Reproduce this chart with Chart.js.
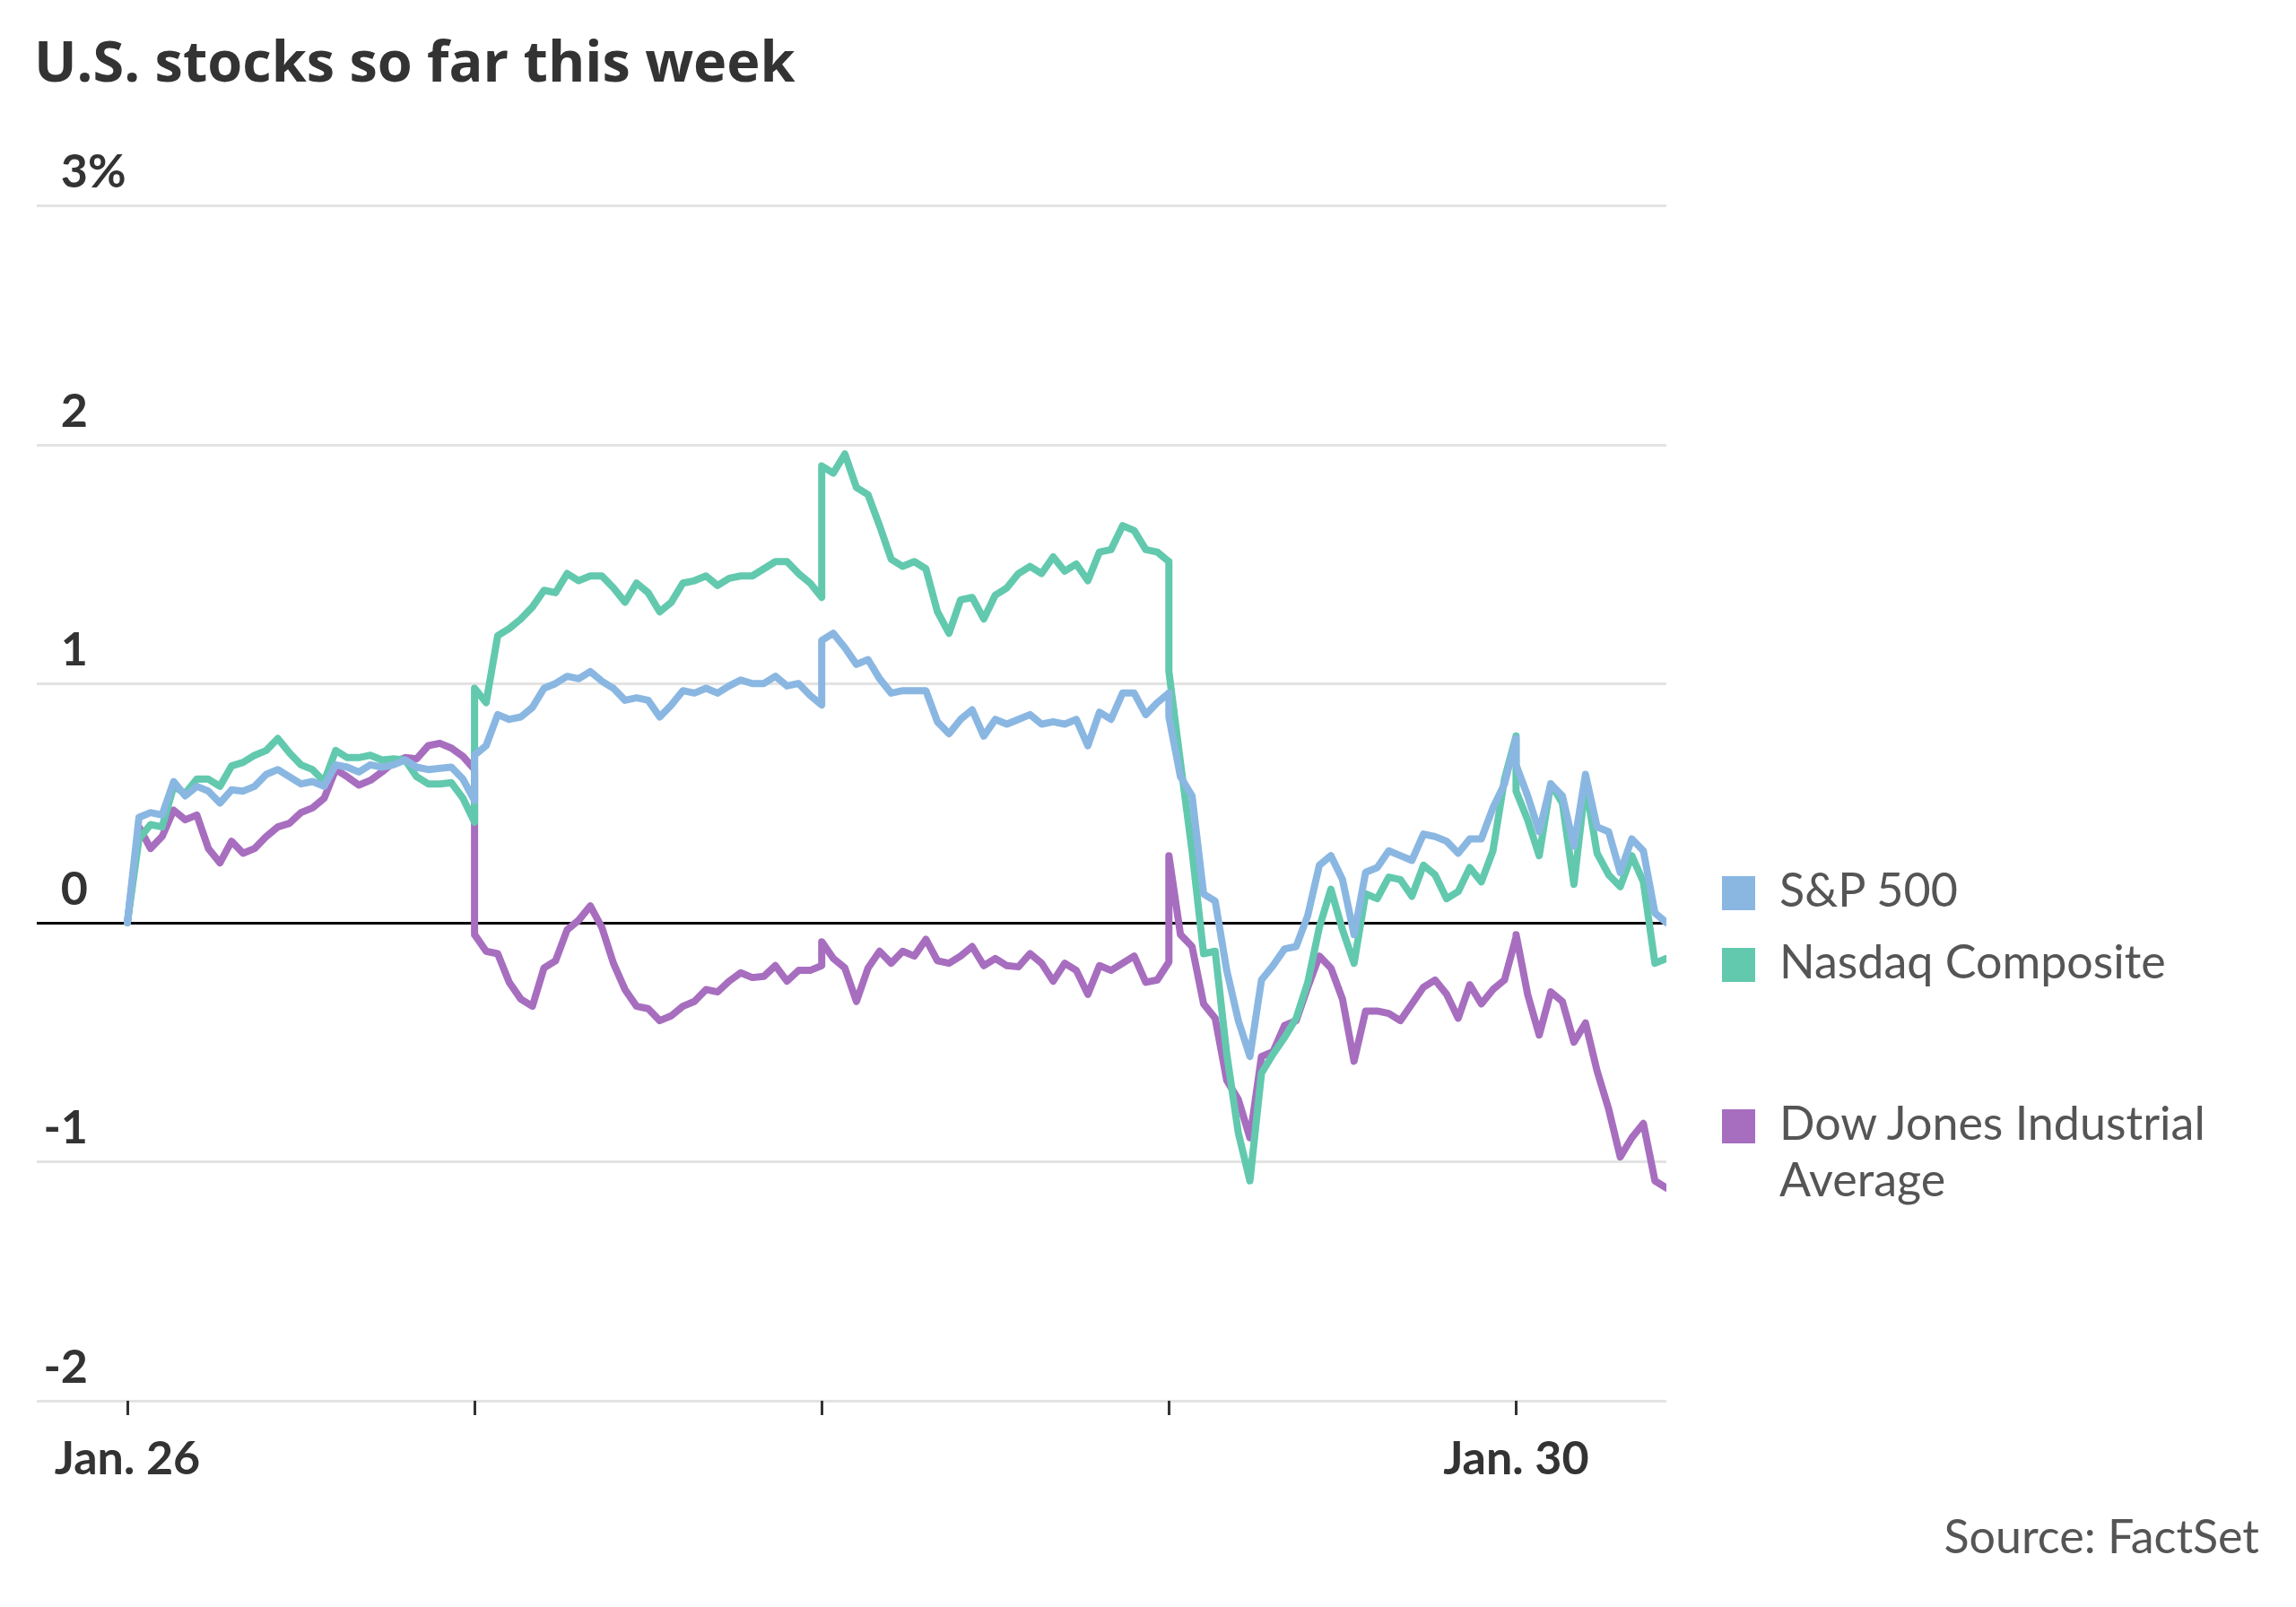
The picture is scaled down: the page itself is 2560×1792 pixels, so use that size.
<!DOCTYPE html>
<html lang="en">
<head>
<meta charset="UTF-8" />
<title>U.S. stocks so far this week</title>
<script src="https://cdn.jsdelivr.net/npm/chart.js"></script>
<style>
  html, body { margin: 0; padding: 0; background: #fff; }
  body { width: 2560px; height: 1792px; position: relative; overflow: hidden; font-family: Lato, "Open Sans", sans-serif; }
  #grafico { position: absolute; left: 0; top: 0; }
  h1 { position: absolute; left: 38px; top: 29px; margin: 0; font-family: "Open Sans", Lato, sans-serif; font-size: 63px; line-height: 1.2; font-weight: 700; color: #333; white-space: nowrap; }
  .leyenda-item { position: absolute; left: 1920px; font-size: 52px; line-height: 63px; color: #555; }
  .leyenda-item .cuadro { position: absolute; left: 0; top: 17px; width: 37px; height: 38px; }
  .leyenda-item .texto { position: absolute; left: 64px; top: 0; width: 520px; }
  .fuente { position: absolute; right: 41px; top: 1681px; font-size: 52px; line-height: 1.2; color: #555; white-space: nowrap; }
</style>
</head>
<body>
<h1>U.S. stocks so far this week</h1>
<canvas id="grafico" width="2560" height="1792"></canvas>
<div id="leyenda"></div>
<div class="fuente">Source: FactSet</div>

<script>
// points per trading day (Jan. 26 .. Jan. 30, last day partial), 30 steps per day
const puntosPorDia = [31, 31, 31, 31, 14];
const pasosPorDia = 30;

const seriesNombres = ['S&P 500', 'Nasdaq Composite', 'Dow Jones Industrial Average'];
const seriesColores = ['#8ab7e2', '#62c9ae', '#a76ebf'];

// % change since Friday close
const sp500 = [
  0, 0.44, 0.46, 0.45, 0.59, 0.53, 0.57, 0.55, 0.50, 0.555, 0.55, 0.57, 0.62, 0.64, 0.61, 0.58, 0.59, 0.57, 0.66, 0.65, 0.63, 0.66, 0.65, 0.66, 0.68, 0.65, 0.64, 0.645, 0.65, 0.60, 0.51,
  0.70, 0.74, 0.87, 0.85, 0.86, 0.90, 0.98, 1.00, 1.03, 1.02, 1.05, 1.01, 0.98, 0.93, 0.94, 0.93, 0.86, 0.91, 0.97, 0.96, 0.98, 0.96, 0.99, 1.015, 1.00, 1.00, 1.03, 0.99, 1.00, 0.95, 0.91,
  1.18, 1.21, 1.15, 1.08, 1.10, 1.02, 0.96, 0.97, 0.97, 0.97, 0.84, 0.79, 0.85, 0.89, 0.78, 0.85, 0.83, 0.85, 0.87, 0.83, 0.84, 0.83, 0.85, 0.74, 0.88, 0.85, 0.96, 0.96, 0.87, 0.92, 0.96,
  0.86, 0.61, 0.53, 0.12, 0.09, -0.20, -0.41, -0.56, -0.24, -0.18, -0.11, -0.10, 0.03, 0.24, 0.28, 0.18, -0.05, 0.21, 0.23, 0.30, 0.28, 0.26, 0.37, 0.36, 0.34, 0.29, 0.35, 0.35, 0.48, 0.58, 0.77,
  0.66, 0.53, 0.38, 0.58, 0.53, 0.32, 0.62, 0.40, 0.38, 0.21, 0.35, 0.30, 0.04, 0.00
];
const nasdaq = [
  0, 0.35, 0.41, 0.40, 0.57, 0.54, 0.60, 0.60, 0.57, 0.655, 0.67, 0.70, 0.72, 0.77, 0.71, 0.66, 0.64, 0.59, 0.72, 0.69, 0.69, 0.70, 0.68, 0.685, 0.68, 0.61, 0.58, 0.58, 0.585, 0.52, 0.42,
  0.98, 0.92, 1.20, 1.23, 1.27, 1.32, 1.39, 1.38, 1.46, 1.43, 1.45, 1.45, 1.40, 1.34, 1.42, 1.38, 1.30, 1.34, 1.42, 1.43, 1.45, 1.41, 1.44, 1.45, 1.45, 1.48, 1.51, 1.51, 1.46, 1.42, 1.36,
  1.91, 1.88, 1.96, 1.82, 1.79, 1.66, 1.52, 1.49, 1.51, 1.48, 1.30, 1.21, 1.35, 1.36, 1.27, 1.37, 1.40, 1.46, 1.49, 1.46, 1.53, 1.47, 1.50, 1.43, 1.55, 1.56, 1.66, 1.64, 1.56, 1.55, 1.51,
  1.05, 0.67, 0.30, -0.13, -0.12, -0.55, -0.88, -1.08, -0.63, -0.55, -0.48, -0.40, -0.25, -0.02, 0.14, -0.03, -0.17, 0.12, 0.10, 0.19, 0.18, 0.11, 0.24, 0.20, 0.10, 0.13, 0.23, 0.17, 0.30, 0.60, 0.78,
  0.55, 0.43, 0.28, 0.58, 0.50, 0.16, 0.58, 0.29, 0.20, 0.15, 0.28, 0.17, -0.17, -0.15
];
const dowJones = [
  0, 0.40, 0.31, 0.36, 0.47, 0.43, 0.45, 0.31, 0.25, 0.34, 0.29, 0.31, 0.36, 0.40, 0.415, 0.46, 0.48, 0.52, 0.64, 0.61, 0.575, 0.595, 0.63, 0.67, 0.69, 0.685, 0.74, 0.75, 0.73, 0.695, 0.64,
  -0.05, -0.12, -0.13, -0.25, -0.32, -0.35, -0.19, -0.16, -0.03, 0.01, 0.07, -0.02, -0.17, -0.28, -0.35, -0.36, -0.41, -0.39, -0.35, -0.33, -0.28, -0.29, -0.245, -0.21, -0.23, -0.225, -0.18, -0.245, -0.20, -0.20, -0.18,
  -0.08, -0.15, -0.19, -0.33, -0.19, -0.12, -0.17, -0.12, -0.14, -0.07, -0.16, -0.17, -0.14, -0.10, -0.18, -0.15, -0.18, -0.185, -0.13, -0.17, -0.245, -0.17, -0.20, -0.30, -0.18, -0.20, -0.17, -0.14, -0.25, -0.24, -0.165,
  0.28, -0.05, -0.10, -0.34, -0.40, -0.66, -0.74, -0.90, -0.56, -0.54, -0.43, -0.41, -0.27, -0.14, -0.19, -0.32, -0.58, -0.37, -0.37, -0.38, -0.41, -0.34, -0.27, -0.24, -0.30, -0.40, -0.26, -0.34, -0.28, -0.24, -0.06,
  -0.05, -0.30, -0.47, -0.29, -0.33, -0.50, -0.42, -0.62, -0.78, -0.98, -0.90, -0.84, -1.08, -1.11
];

const yTicks = [-2, -1, 0, 1, 2, 3];
const yEtiquetas = ['-2', '-1', '0', '1', '2', '3%'];
const xTicks = [0, 1, 2, 3, 4];
const xEtiquetas = ['Jan. 26', '', '', '', 'Jan. 30'];

// time axis in trading days; the close of one day and the open of the next share the same x
const tiempos = [];
puntosPorDia.forEach((n, d) => {
  for (let j = 0; j < n; j++) tiempos.push(d + j / pasosPorDia);
});

const aPuntos = (valores) => valores.map((v, i) => ({ x: tiempos[i], y: v }));

// leyenda
const leyendaTops = [960, 1040, 1220];
const leyenda = document.getElementById('leyenda');
seriesNombres.forEach((nombre, i) => {
  const item = document.createElement('div');
  item.className = 'leyenda-item';
  item.style.top = leyendaTops[i] + 'px';
  const cuadro = document.createElement('div');
  cuadro.className = 'cuadro';
  cuadro.style.background = seriesColores[i];
  const texto = document.createElement('div');
  texto.className = 'texto';
  texto.textContent = nombre;
  item.appendChild(cuadro);
  item.appendChild(texto);
  leyenda.appendChild(item);
});

const ejes = {
  id: 'ejes',
  beforeDatasetsDraw(chart) {
    const { ctx, chartArea: { left, right, bottom }, scales: { x, y } } = chart;
    ctx.save();
    ctx.lineWidth = 3;
    yTicks.forEach((t) => {
      if (t === 0) return;
      const py = Math.round(y.getPixelForValue(t)) + 0.5;
      ctx.strokeStyle = '#e3e3e3';
      ctx.beginPath();
      ctx.moveTo(left, py);
      ctx.lineTo(right, py);
      ctx.stroke();
    });
    const y0 = Math.round(y.getPixelForValue(0)) + 0.5;
    ctx.strokeStyle = '#000';
    ctx.beginPath();
    ctx.moveTo(left, y0);
    ctx.lineTo(right, y0);
    ctx.stroke();

    // tick marks under the axis
    ctx.strokeStyle = '#333';
    ctx.lineWidth = 3;
    xTicks.forEach((t) => {
      const px = Math.round(x.getPixelForValue(t)) + 0.5;
      ctx.beginPath();
      ctx.moveTo(px, bottom);
      ctx.lineTo(px, bottom + 16);
      ctx.stroke();
    });

    // labels
    ctx.fillStyle = '#333';
    ctx.font = 'bold 52px Lato';
    ctx.textBaseline = 'alphabetic';
    yTicks.forEach((t, i) => {
      const py = y.getPixelForValue(t) - 20;
      const texto = yEtiquetas[i];
      const num = texto.replace('%', '');
      ctx.textAlign = 'right';
      ctx.fillText(num, 98, py);
      if (texto.endsWith('%')) {
        ctx.textAlign = 'left';
        ctx.fillText('%', 98, py);
      }
    });
    ctx.textAlign = 'center';
    xTicks.forEach((t, i) => {
      if (!xEtiquetas[i]) return;
      ctx.fillText(xEtiquetas[i], x.getPixelForValue(t), bottom + 82);
    });
    ctx.restore();
  }
};

const datos = [sp500, nasdaq, dowJones];

new Chart(document.getElementById('grafico'), {
  type: 'line',
  data: {
    datasets: datos.map((serie, i) => ({
      label: seriesNombres[i],
      data: aPuntos(serie),
      borderColor: seriesColores[i],
      backgroundColor: seriesColores[i],
      borderWidth: 8,
      pointRadius: 0,
      tension: 0,
      borderJoinStyle: 'round',
      borderCapStyle: 'round',
      fill: false
    }))
  },
  options: {
    responsive: false,
    animation: false,
    devicePixelRatio: 1,
    layout: { padding: { left: 41, right: 702, top: 229, bottom: 230 } },
    elements: {
      line: { borderWidth: 8, tension: 0 },
      point: { radius: 0 }
    },
    scales: {
      x: { type: 'linear', display: false, min: -0.261, max: 4.433 },
      y: { type: 'linear', display: false, min: -2, max: 3 }
    },
    plugins: {
      legend: { display: false },
      tooltip: { enabled: false }
    }
  },
  plugins: [ejes]
});
</script>
</body>
</html>
